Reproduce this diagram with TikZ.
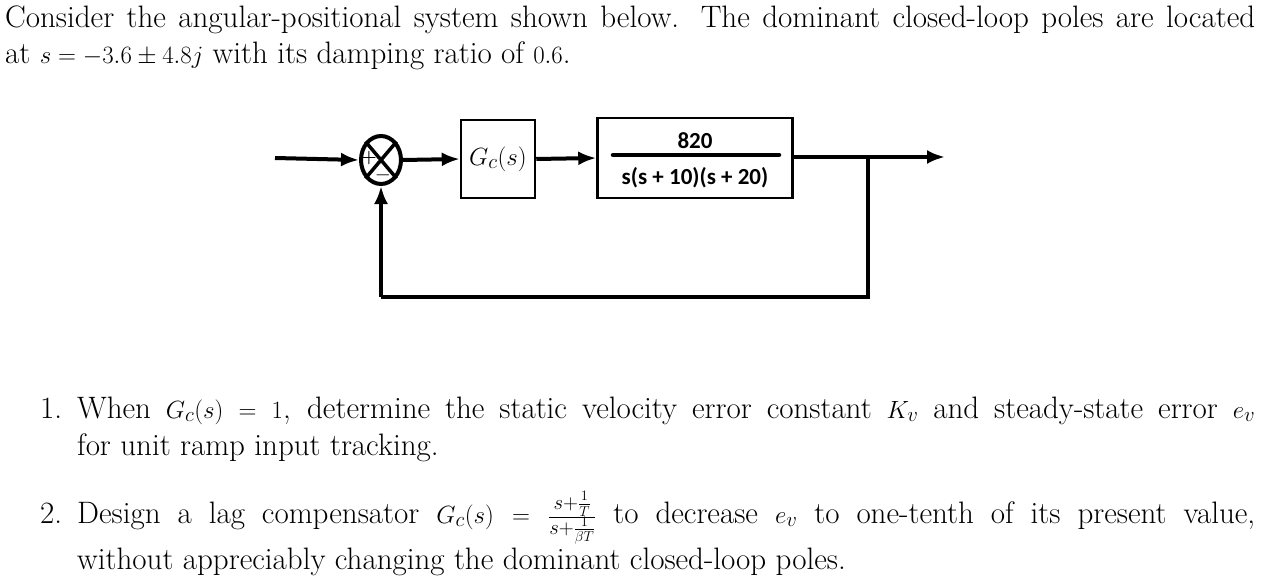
\documentclass[tikz,border=0pt]{standalone}
\usepackage{fontspec}
\newfontfamily\carlitofont{Carlito}
\usetikzlibrary{arrows.meta,shapes.geometric}
\begin{document}
\begin{tikzpicture}[x=1pt,y=-1pt,
  txt/.style={anchor=base west,inner sep=0,font=\fontsize{31}{36}\selectfont},
  blk/.style={draw,line width=2.5pt,inner sep=0},
  wire/.style={line width=4pt,-{Latex[length=18pt,width=14pt]}},
  plain/.style={line width=4pt}]
\useasboundingbox (0,0) rectangle (1284,580);
\node[txt] (l1) at (5,28) {\hbox to 1250pt{Consider the angular-positional system shown below. The dominant closed-loop poles are located}};
\node[txt] (l2) at (5,64) {at $s=-3.6\pm4.8j$ with its damping ratio of $0.6$.};
\node[txt] (i1) at (40,418) {\hbox to 1215pt{1.\hspace{15pt}When $G_c(s)=1$, determine the static velocity error constant $K_v$ and steady-state error $e_v$}};
\node[txt] (i1b) at (77,455) {for unit ramp input tracking.};
\node[txt] (i2) at (40,523) {\hbox to 1215pt{2.\hspace{15pt}Design a lag compensator $G_c(s)=\frac{s+\frac1T}{s+\frac1{\beta T}}$ to decrease $e_v$ to one-tenth of its present value,}};
\node[txt] (i2b) at (77,569) {without appreciably changing the dominant closed-loop poles.};
% diagram
\coordinate (in) at (275,158);
\node[draw,line width=4pt,ellipse,minimum width=40pt,minimum height=48pt,inner sep=0] (sum) at (381,160) {};
\draw[line width=3.5pt] (sum.north west) -- (sum.south east) (sum.north east) -- (sum.south west);
\node[font=\bfseries\fontsize{18}{18}\selectfont,inner sep=0] (pl) at (369,158) {+};
\node[font=\bfseries\fontsize{22}{22}\selectfont,inner sep=0] (mi) at (383,175) {$-$};
\node[blk,minimum width=74pt,minimum height=78pt] (gc) at (498,159) {\fontsize{29}{29}\selectfont$G_c(s)$};
\node[blk,minimum width=195pt,minimum height=80pt] (g) at (695,158) {};
\node[font=\carlitofont\bfseries\fontsize{23}{23}\selectfont,inner sep=0] (num) at (695,141) {820};
\node[font=\carlitofont\bfseries\fontsize{23}{23}\selectfont,inner sep=0] (den) at (695,178) {s(s + 10)(s + 20)};
\draw[line width=4.5pt,line cap=round] (613,155) -- (779,155);
\coordinate (out) at (945,157);
\coordinate (br) at (868,157);
\coordinate (c1) at (868,297);
\coordinate (c2) at (381,297);
\draw[wire] (in) -- (sum.west);
\draw[wire] (sum.east) -- (gc.west);
\draw[wire] (gc.east) -- (g.west);
\draw[wire] (g.east |- out) -- (out);
\draw[plain] (br) -- (c1) -- (c2);
\draw[wire] (c2) -- (sum.south);
\end{tikzpicture}
\end{document}
